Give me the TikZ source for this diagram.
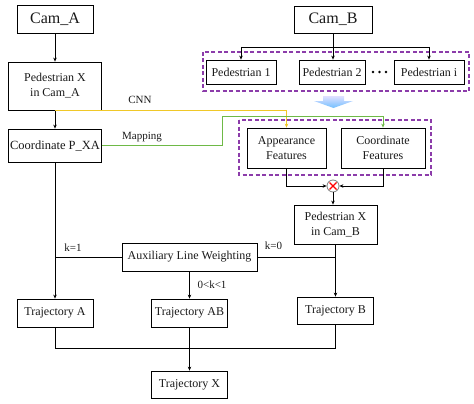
\documentclass[tikz,border=0pt]{standalone}
\usepackage{fontspec}
\setmainfont{Liberation Serif}
\usetikzlibrary{arrows.meta,calc}
\definecolor{cnnyellow}{RGB}{240,200,40}
\definecolor{mapgreen}{RGB}{110,185,70}
\definecolor{dashpurple}{RGB}{140,60,170}
\definecolor{txt}{RGB}{25,25,25}
\begin{document}
\begin{tikzpicture}[x=1pt,y=-1pt,
  box/.style={draw=black,line width=0.8pt,inner sep=1pt,align=center,text=txt,
    font=\fontsize{12}{15}\selectfont},
  bigbox/.style={box,font=\fontsize{16}{18}\selectfont},
  lbl/.style={text=txt,font=\fontsize{11}{13}\selectfont,inner sep=0pt},
  con/.style={line width=0.8pt,draw=black},
  arr/.style={con,-{Stealth[length=4pt,width=3.5pt]}},
  grp/.style={draw=dashpurple,line width=1.1pt,dash pattern=on 4pt off 2.5pt}
]
\useasboundingbox (0,0) rectangle (474,404);
% left column
\node[bigbox,minimum width=76pt,minimum height=28pt] (camA) at (55,19) {Cam\_A};
\node[box,minimum width=93pt,minimum height=48pt] (pedXA) at (55,86) {Pedestrian X\\in Cam\_A};
\node[box,minimum width=93pt,minimum height=33pt,font=\fontsize{12.5}{15}\selectfont] (coordP) at (55,145.5) {Coordinate P\_XA};
% right top
\node[bigbox,minimum width=78pt,minimum height=27pt] (camB) at (333,19.5) {Cam\_B};
\draw[grp] (203,52) rectangle (469,91);
\node[box,minimum width=70pt,minimum height=24pt] (p1) at (241,72) {Pedestrian 1};
\node[box,minimum width=66pt,minimum height=24pt] (p2) at (332,72) {Pedestrian 2};
\node[box,minimum width=70pt,minimum height=24pt] (pi) at (429,72) {Pedestrian i};
\foreach \xx in {373,379.5,386} \fill[black] (\xx,72) circle (1.3pt);
\coordinate (split) at (333,47);
\draw[con] (camB.south) -- (split);
\draw[con] (p1.north |- split) -- (pi.north |- split);
\draw[arr] (p1.north |- split) -- (p1.north);
\draw[arr] (split) -- (split |- p2.north);
\draw[arr] (pi.north |- split) -- (pi.north);
% blue arrow
\shade[top color=blue!12!white,bottom color=blue!45!cyan!55!white]
  (323,96) -- (344,96) -- (344,101) -- (353,101) -- (333.5,108) -- (314,101) -- (323,101) -- cycle;
% features
\draw[grp] (239,120) rectangle (431,175);
\node[box,minimum width=79pt,minimum height=40pt] (appF) at (286.5,148) {Appearance\\Features};
\node[box,minimum width=84pt,minimum height=40pt] (coordF) at (383,148) {Coordinate\\Features};
\node[circle,draw=gray,line width=0.8pt,fill=white,minimum size=12pt,inner sep=0pt] (mult) at (333,186) {};
\draw[red,line width=1.2pt] ($(mult)+(-3.5,-3.5)$) -- ($(mult)+(3.5,3.5)$) ($(mult)+(-3.5,3.5)$) -- ($(mult)+(3.5,-3.5)$);
\draw[arr] (appF.south) -- (appF.south |- mult) -- (mult.west);
\draw[arr] (coordF.south) -- (coordF.south |- mult) -- (mult.east);
\node[box,minimum width=83pt,minimum height=39pt] (pedXB) at (335.5,224.5) {Pedestrian X\\in Cam\_B};
\draw[arr] (mult.south) -- (mult.south |- pedXB.north);
% CNN / Mapping
\draw[arr] (camA.south) -- (pedXA.north);
\draw[arr] (pedXA.south) -- (coordP.north);
\draw[cnnyellow,line width=0.9pt,-{Stealth[length=4pt,width=3.5pt]}] (pedXA.south) -- (appF.north |- pedXA.south) -- (appF.north);
\coordinate (gA) at (222,145.5);
\coordinate (gB) at (222,116);
\draw[mapgreen,line width=0.9pt,-{Stealth[length=4pt,width=3.5pt]}] (coordP.east) -- (gA) -- (gB) -- (coordF.north |- gB) -- (coordF.north);
\node[lbl] (cnn) at (140,100) {CNN};
\node[lbl] (mapping) at (142,137) {Mapping};
% weighting
\node[box,minimum width=135pt,minimum height=28pt] (aux) at (189.5,257) {Auxiliary Line Weighting};
\node[box,minimum width=76pt,minimum height=28pt] (trA) at (55,313) {Trajectory A};
\node[box,minimum width=76pt,minimum height=28pt] (trAB) at (189.5,313) {Trajectory AB};
\node[box,minimum width=76pt,minimum height=27pt] (trB) at (335.5,310.5) {Trajectory B};
\node[box,minimum width=76pt,minimum height=27pt] (trX) at (189.5,384.5) {Trajectory X};
\draw[arr] (coordP.south) -- (trA.north);
\draw[con] (aux.west) -- (coordP.south |- aux.west);
\draw[arr] (aux.south) -- (trAB.north);
\draw[con] (aux.east) -- (pedXB.south |- aux.east);
\draw[arr] (pedXB.south) -- (trB.north);
\node[lbl] (k1) at (73,248) {k=1};
\node[lbl] (k0) at (273.5,246) {k=0};
\node[lbl] (kmid) at (212,285) {0<k<1};
\coordinate (mergeL) at (55,348);
\draw[con] (trA.south) -- (mergeL) -- (mergeL -| trB.south) -- (trB.south);
\draw[arr] (trAB.south) -- (trX.north);
\end{tikzpicture}
\end{document}
